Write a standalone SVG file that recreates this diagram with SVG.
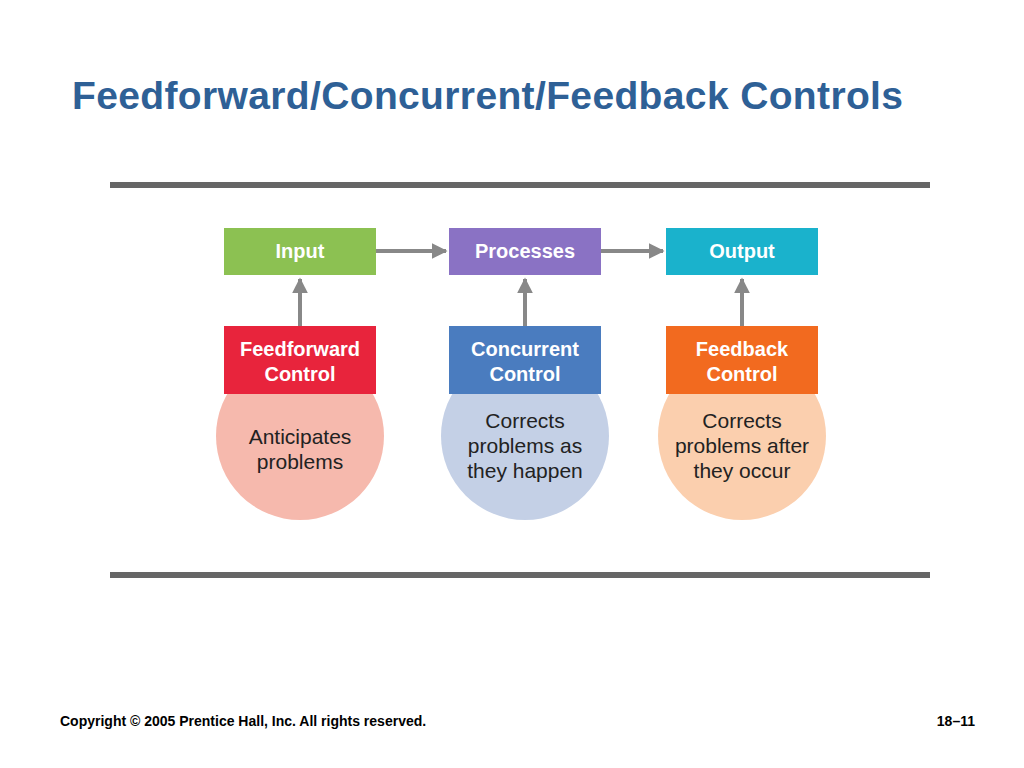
<svg xmlns="http://www.w3.org/2000/svg" width="1024" height="768" viewBox="0 0 1024 768">
<style>
.t{font-family:"Liberation Sans",Arial,sans-serif;font-weight:bold}
.bx{font-family:"Liberation Sans",Arial,sans-serif;font-size:20px;font-weight:bold;fill:#fff;text-anchor:middle}
.cx{font-family:"Liberation Sans",Arial,sans-serif;font-size:21px;fill:#222;text-anchor:middle}
.c{stroke:#888;stroke-width:4;fill:none;marker-end:url(#a)}
</style>
<defs>
<marker id="a" viewBox="0 0 10 10" refX="9" refY="5" markerWidth="4" markerHeight="4" orient="auto"><path d="M0,0L10,5L0,10z" fill="#888"/></marker>
</defs>
<rect width="1024" height="768" fill="#fff"/>
<text class="t" x="72" y="109" font-size="39" fill="#2e6096" textLength="831">Feedforward/Concurrent/Feedback Controls</text>
<rect x="110" y="182" width="820" height="6" fill="#666"/>
<rect x="110" y="572" width="820" height="6" fill="#666"/>
<g id="connectors">
<path class="c" d="M376,251H446"/>
<path class="c" d="M601,251H663"/>
<path class="c" d="M300,326V279"/>
<path class="c" d="M525,326V279"/>
<path class="c" d="M742,326V279"/>
</g>
<g id="input"><rect x="224" y="228" width="152" height="47" fill="#8cc152"/><text class="bx" x="300" y="258">Input</text></g>
<g id="processes"><rect x="449" y="228" width="152" height="47" fill="#8a72c4"/><text class="bx" x="525" y="258">Processes</text></g>
<g id="output"><rect x="666" y="228" width="152" height="47" fill="#1ab2cc"/><text class="bx" x="742" y="258">Output</text></g>
<g id="feedforward">
<circle cx="300" cy="436" r="84" fill="#f6b9ad"/>
<rect x="224" y="326" width="152" height="68" fill="#e8243c"/>
<text class="bx" x="300" y="356">Feedforward</text><text class="bx" x="300" y="381">Control</text>
<text class="cx" x="300" y="444">Anticipates</text><text class="cx" x="300" y="469">problems</text>
</g>
<g id="concurrent">
<circle cx="525" cy="436" r="84" fill="#c4d0e6"/>
<rect x="449" y="326" width="152" height="68" fill="#4a7cbf"/>
<text class="bx" x="525" y="356">Concurrent</text><text class="bx" x="525" y="381">Control</text>
<text class="cx" x="525" y="428">Corrects</text><text class="cx" x="525" y="453">problems as</text><text class="cx" x="525" y="478">they happen</text>
</g>
<g id="feedback">
<circle cx="742" cy="436" r="84" fill="#fbcfae"/>
<rect x="666" y="326" width="152" height="68" fill="#f26a1f"/>
<text class="bx" x="742" y="356">Feedback</text><text class="bx" x="742" y="381">Control</text>
<text class="cx" x="742" y="428">Corrects</text><text class="cx" x="742" y="453">problems after</text><text class="cx" x="742" y="478">they occur</text>
</g>
<text class="t" x="60" y="726" font-size="14" fill="#000">Copyright © 2005 Prentice Hall, Inc. All rights reserved.</text>
<text class="t" x="975" y="726" font-size="14" fill="#000" text-anchor="end">18–11</text>
</svg>
